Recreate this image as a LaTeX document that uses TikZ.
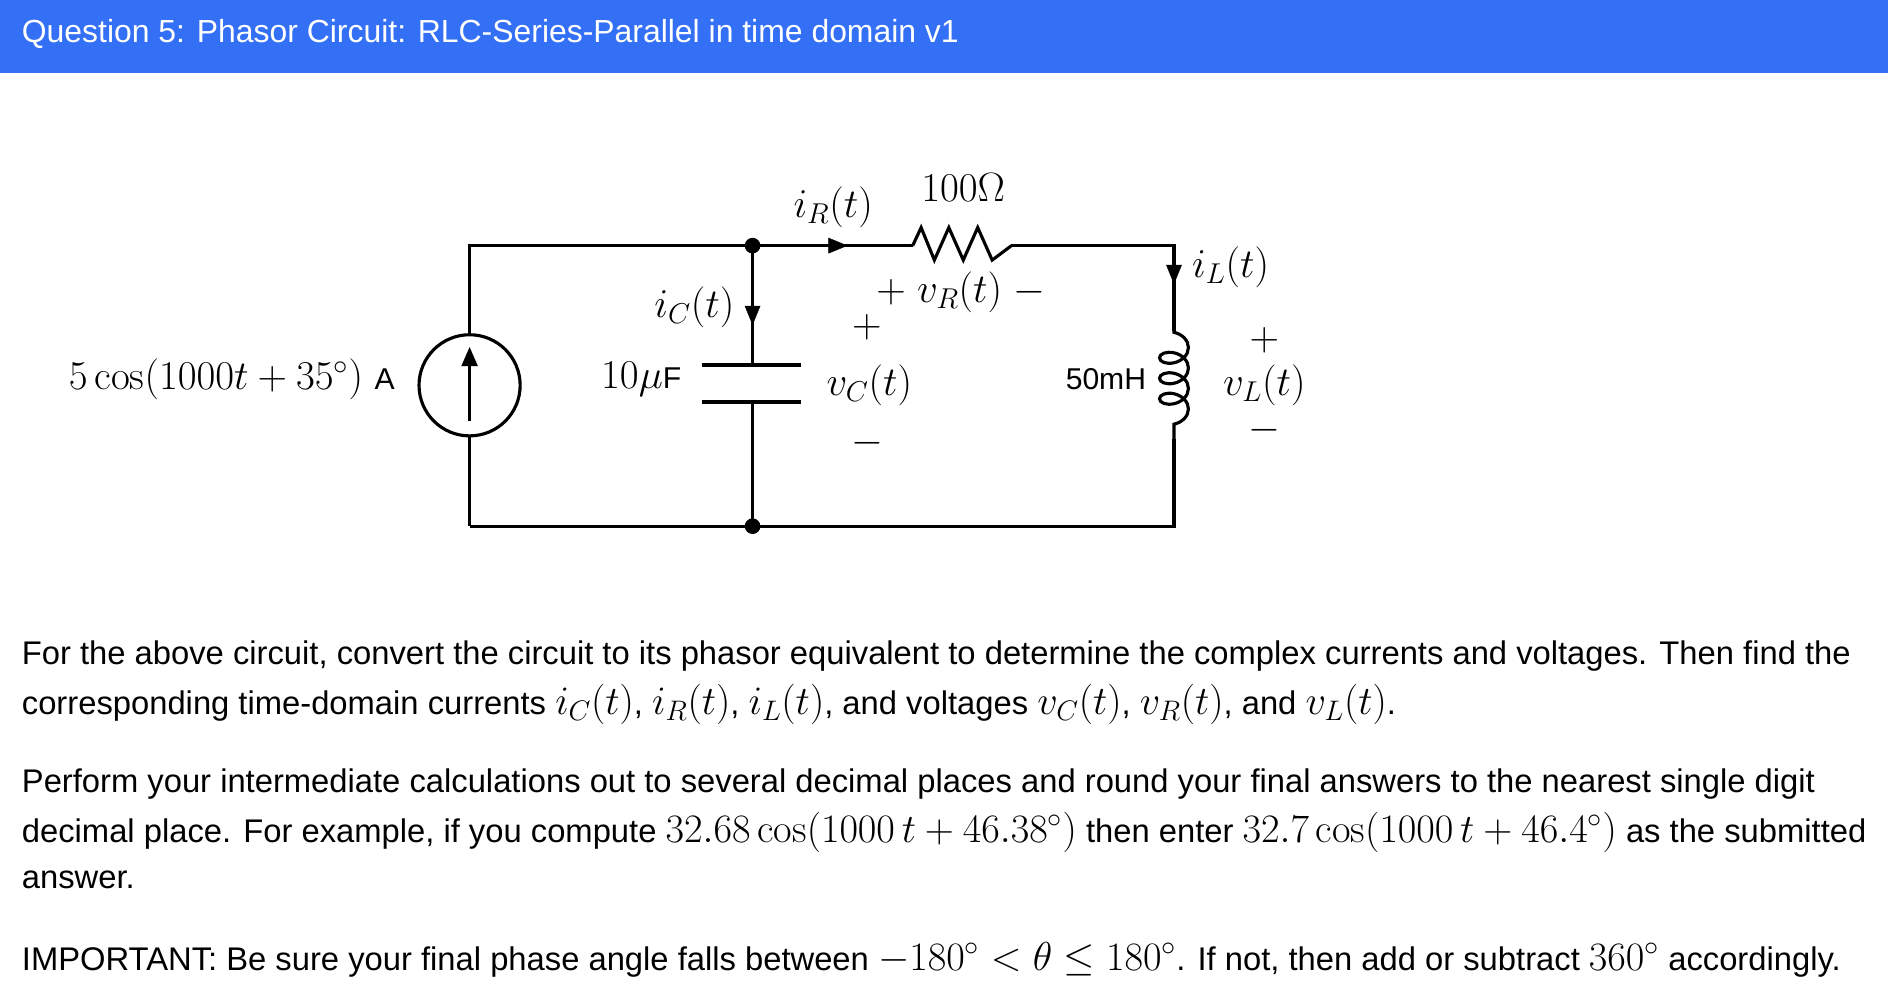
\RequirePackage{fix-cm}
\documentclass[tikz,border=0pt]{standalone}
\usepackage{fontspec}
\setmainfont{Liberation Sans}
\setmathrm{Latin Modern Roman}
\usetikzlibrary{decorations.pathmorphing,arrows.meta}
\definecolor{hdr}{RGB}{51,112,246}
\newcommand{\sm}[1]{{\fontsize{25}{28}\selectfont #1}}
\newcommand{\M}[1]{{\fontsize{33.5}{30}\selectfont$#1$}}
\begin{document}
\begin{tikzpicture}[x=1pt,y=-1pt,
  wire/.style={line width=2.6pt},
  lbl/.style={font=\fontsize{34}{38}\selectfont,inner sep=0pt},
  para/.style={font=\fontsize{27.2}{30}\selectfont,anchor=west,inner sep=0pt},
  tip/.style={-{Triangle[length=16pt,width=13pt]}}]
\useasboundingbox (0,0) rectangle (1568,829);
\fill[hdr] (0,0) rectangle (1568,61);
\node[anchor=west,text=white,font=\fontsize{26.5}{30}\selectfont,inner sep=0pt] (title) at (18,28) {Question 5: Phasor Circuit: RLC-Series-Parallel in time domain v1};
% coordinates
\coordinate (tl) at (390,204); \coordinate (bl) at (390,437);
\coordinate (tj) at (625,204); \coordinate (bj) at (625,437);
\coordinate (tr) at (975,204); \coordinate (br) at (975,437);
\coordinate (r1) at (758,204); \coordinate (r2) at (840,204);
\coordinate (c1) at (625,303); \coordinate (c2) at (625,334);
\coordinate (l1) at (975,275); \coordinate (l2) at (975,365);
% wires
\draw[wire] (bl) -- (390,362);
\draw[wire] (390,278) -- (tl) -- (r1);
\draw[wire] (r1) -- (765,189) -- (776,216) -- (788,189) -- (800,216) -- (812,189) -- (824,216) -- (r2);
\draw[wire] (r2) -- (tr) -- (l1);
\draw[wire] (l2) -- (br) -- (bl);
\draw[wire] (tj) -- (c1); \draw[wire] (c2) -- (bj);
\draw[line width=3.5pt] (583,303) -- (665,303) (583,334) -- (665,334);
\draw[wire, decorate, decoration={coil,aspect=0.7,amplitude=12pt,segment length=17pt,pre length=1pt,post length=1pt}] (l1) -- (l2);
\fill (tj) circle (6.5); \fill (bj) circle (6.5);
% source
\node[draw,circle,line width=2.6pt,minimum size=84pt,inner sep=0pt] (src) at (390,320) {};
\draw[line width=2.6pt,tip] (390,350) -- (390,288);
% arrows
\draw[tip] (660,204) -- (704,204);
\draw[tip] (625,240) -- (625,270);
\draw[tip] (975,210) -- (975,236);
% labels
\node[lbl,anchor=east] (srcl) at (328,315) {$5\cos(1000t+35^\circ)$ \sm{A}};
\node[lbl,anchor=east] (capl) at (566,315) {$10\mu$\sm{F}};
\node[lbl,anchor=east] (ic) at (610,255) {$i_C(t)$};
\node[lbl] (ir) at (692,172) {$i_R(t)$};
\node[lbl] (res) at (800,156) {$100\Omega$};
\node[lbl] (vr) at (798,243) {$+\ v_R(t)\ -$};
\node[lbl] (vcp) at (720,272) {$+$};
\node[lbl] (vc) at (722,320) {$v_C(t)$};
\node[lbl] (vcm) at (720,368) {$-$};
\node[lbl,anchor=east] (indl) at (952,315) {\sm{50mH}};
\node[lbl] (il) at (1022,222) {$i_L(t)$};
\node[lbl] (vlp) at (1050,283) {$+$};
\node[lbl] (vl) at (1050,320) {$v_L(t)$};
\node[lbl] (vlm) at (1050,357) {$-$};
% text
\node[para] (p1) at (18,545) {For the above circuit, convert the circuit to its phasor equivalent to determine the complex currents and voltages. Then find the};
\node[para] (p2) at (18,585) {corresponding time-domain currents \M{i_C(t)}, \M{i_R(t)}, \M{i_L(t)}, and voltages \M{v_C(t)}, \M{v_R(t)}, and \M{v_L(t)}.};
\node[para] (p3) at (18,651) {Perform your intermediate calculations out to several decimal places and round your final answers to the nearest single digit};
\node[para] (p4) at (18,691) {decimal place. For example, if you compute \M{32.68\cos(1000\,t+46.38^\circ)} then enter \M{32.7\cos(1000\,t+46.4^\circ)} as the submitted};
\node[para] (p5) at (18,731) {answer.};
\node[para] (p6) at (18,797) {IMPORTANT: Be sure your final phase angle falls between \M{-180^\circ<\theta\leq180^\circ}. If not, then add or subtract \M{360^\circ} accordingly.};
\end{tikzpicture}
\end{document}
